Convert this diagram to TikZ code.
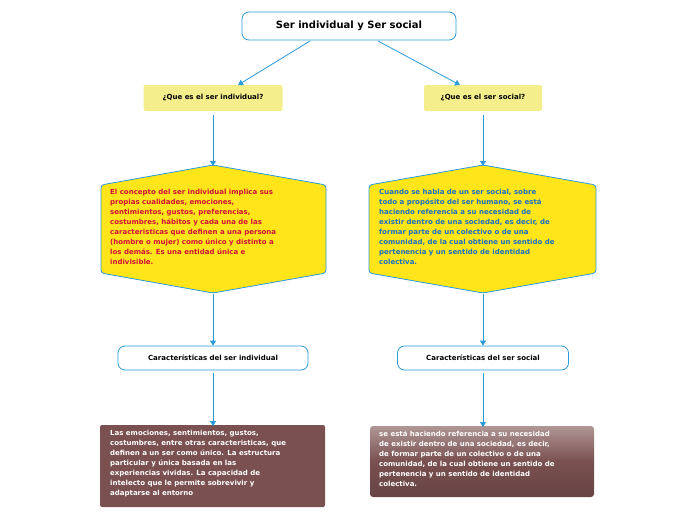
\documentclass[tikz,border=0pt]{standalone}
\usepackage{fontspec}
\setmainfont{DejaVu Sans}
\usetikzlibrary{arrows.meta}
\definecolor{bl}{HTML}{2A9AD8}
\definecolor{yl}{HTML}{FFE51A}
\definecolor{ql}{HTML}{F5EE8C}
\definecolor{rd}{HTML}{D0103A}
\definecolor{tb}{HTML}{1A6FC0}
\definecolor{br}{HTML}{7A5050}
\begin{document}
\begin{tikzpicture}[x=1pt,y=-1pt,
  rbox/.style={draw=bl,fill=white,rounded corners=7pt,line width=0.8pt,font=\bfseries},
  qbox/.style={fill=ql,rounded corners=2pt,font=\bfseries\fontsize{7}{8}\selectfont},
  arr/.style={draw=bl,line width=0.8pt,-{Triangle[width=6pt,length=5pt]}},
  btxt/.style={font=\bfseries\fontsize{7}{10}\selectfont,align=left,anchor=north west,inner sep=0pt}]
\useasboundingbox (0,0) rectangle (696,520);
\node[rbox,minimum width=214pt,minimum height=28pt,font=\bfseries\fontsize{10}{12}\selectfont] (t) at (349,26) {Ser individual y Ser social};
\node[qbox,minimum width=139pt,minimum height=26pt] (q1) at (213,98) {¿Que es el ser individual?};
\node[qbox,minimum width=118pt,minimum height=26pt] (q2) at (483,98) {¿Que es el ser social?};
\coordinate (t1) at (310,41); \coordinate (t2) at (378,41);
\draw[arr] (t1) -- (238,85);
\draw[arr] (t2) -- (460,85);
% hexagons
\draw[draw=bl,fill=yl,line width=0.8pt,rounded corners=3pt] (213,165) -- (326,185) -- (326,273) -- (213,293) -- (101,273) -- (101,185) -- cycle;
\draw[draw=bl,fill=yl,line width=0.8pt,rounded corners=3pt] (483,165) -- (596,185) -- (596,273) -- (483,293) -- (369,273) -- (369,185) -- cycle;
\coordinate (h1t) at (213,166); \coordinate (h2t) at (483,166);
\coordinate (h1b) at (213,294); \coordinate (h2b) at (483,294);
\node[btxt,text=rd] (h1) at (110,189) {El concepto del ser individual implica sus\\propias cualidades, emociones,\\sentimientos, gustos, preferencias,\\costumbres, hábitos y cada una de las\\caracteristicas que definen a una persona\\(hombre o mujer) como único y distinto a\\los demás. Es una entidad única e\\indivisible.};
\node[btxt,text=tb] (h2) at (379,189) {Cuando se habla de un ser social, sobre\\todo a propósito del ser humano, se está\\haciendo referencia a su necesidad de\\existir dentro de una sociedad, es decir, de\\formar parte de un colectivo o de una\\comunidad, de la cual obtiene un sentido de\\pertenencia y un sentido de identidad\\colectiva.};
\draw[arr] (q1.south) ++(0,4) -- (h1t);
\draw[arr] (q2.south) ++(0,4) -- (h2t);
\node[rbox,minimum width=190pt,minimum height=24pt,font=\bfseries\fontsize{7}{8}\selectfont] (c1) at (213,358) {Características del ser individual};
\node[rbox,minimum width=171pt,minimum height=24pt,font=\bfseries\fontsize{7}{8}\selectfont] (c2) at (483,358) {Características del ser social};
\draw[arr] (h1b) -- (c1.north);
\draw[arr] (h2b) -- (c2.north);
\fill[br,rounded corners=2pt] (100,425) rectangle (325,507);
\shade[rounded corners=3pt,top color=br!60!white,bottom color=br!85!black,middle color=br] (370,426) rectangle (594,497);
\coordinate (b1t) at (213,426); \coordinate (b2t) at (483,427);
\draw[arr] (c1.south) ++(0,3) -- (b1t);
\draw[arr] (c2.south) ++(0,3) -- (b2t);
\node[btxt,text=white] (b1) at (110,430) {Las emociones, sentimientos, gustos,\\costumbres, entre otras caracteristicas, que\\definen a un ser como único. La estructura\\particular y única basada en las\\experiencias vividas. La capacidad de\\intelecto que le permite sobrevivir y\\adaptarse al entorno};
\node[btxt,text=white] (b2) at (379,431) {se está haciendo referencia a su necesidad\\de existir dentro de una sociedad, es decir,\\de formar parte de un colectivo o de una\\comunidad, de la cual obtiene un sentido de\\pertenencia y un sentido de identidad\\colectiva.};
\end{tikzpicture}
\end{document}
